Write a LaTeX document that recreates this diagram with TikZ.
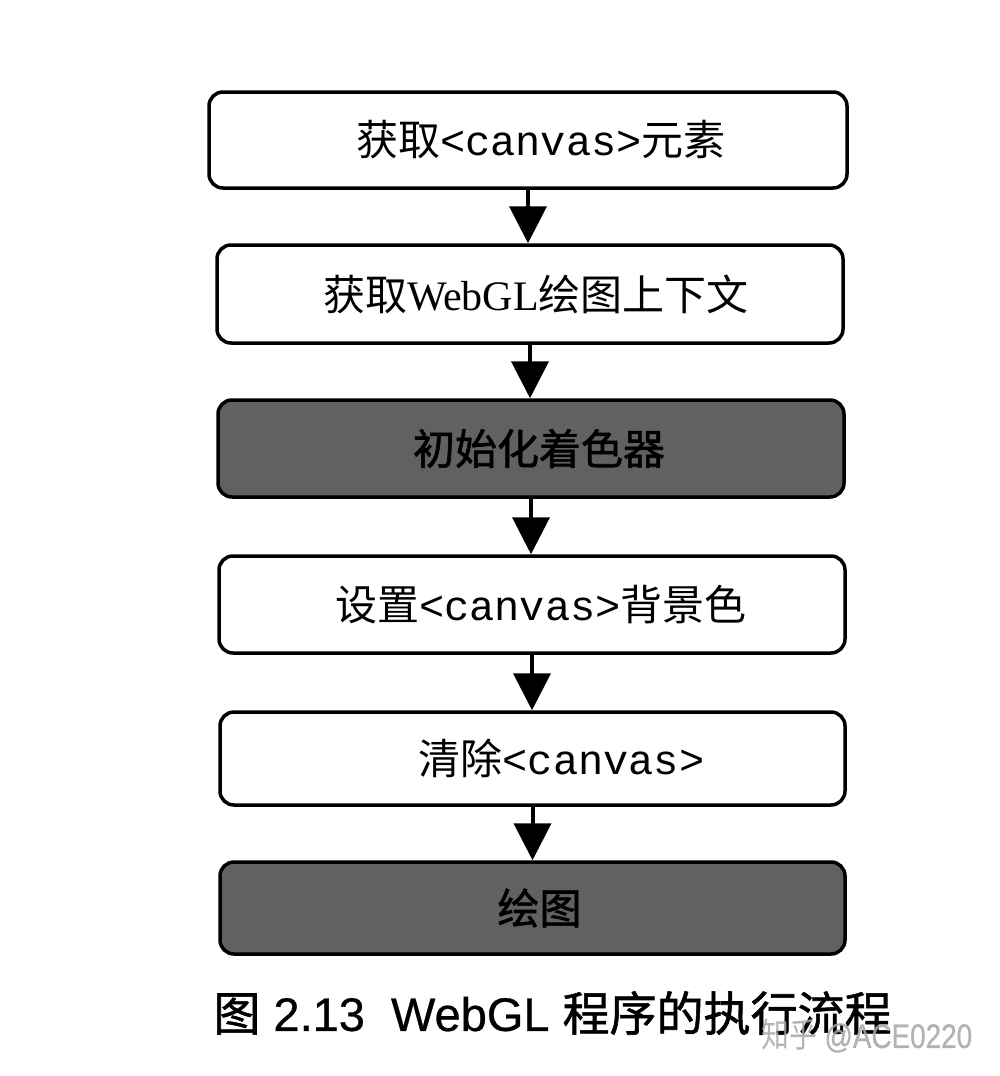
\documentclass[tikz,border=0pt]{standalone}
\usepackage{fontspec}
\setmainfont{Liberation Serif}
\newfontfamily\cjk{Noto Sans CJK SC}
\newfontfamily\cjkb[FakeBold=1.5]{Noto Sans CJK SC}
\newfontfamily\capcjk[FakeBold=1.2]{Noto Sans CJK SC}
\newfontfamily\monof{Liberation Mono}
\newfontfamily\capsans[FakeBold=0.6]{Liberation Sans}
\usetikzlibrary{arrows.meta}
\begin{document}
\begin{tikzpicture}[x=1pt,y=-1pt,
  stepbox/.style={draw=black, line width=3.5pt, rounded corners=14pt, fill=white,
    minimum width=626pt, minimum height=96pt, inner sep=0pt, font=\fontsize{42}{46}\selectfont},
  darkbox/.style={stepbox, fill=black!62},
  flow/.style={line width=4pt, -{Triangle[length=37pt,width=37pt]}},
]
\useasboundingbox (0,0) rectangle (1000,1076);
\fill[white] (0,0) rectangle (1000,1076);

\node[stepbox, minimum width=638pt, minimum height=96pt] (b1) at (528,140)
  {\hspace*{26pt}{\cjk 获取}{\monof <canvas>}{\cjk 元素}};
\node[stepbox, minimum width=626pt, minimum height=98pt] (b2) at (530,294)
  {\hspace*{12pt}{\cjk 获取}WebGL{\cjk 绘图上下文}};
\node[darkbox, minimum width=626pt, minimum height=97pt] (b3) at (531,448.5)
  {\hspace*{16pt}{\cjkb 初始化着色器}};
\node[stepbox, minimum width=626pt, minimum height=97pt] (b4) at (532,604.5)
  {\hspace*{18pt}{\cjk 设置}{\monof <canvas>}{\cjk 背景色}};
\node[stepbox, minimum width=625pt, minimum height=93pt] (b5) at (532.5,758.5)
  {\hspace*{58pt}{\cjk 清除}{\monof <canvas>}};
\node[darkbox, minimum width=625pt, minimum height=92pt] (b6) at (532.5,908)
  {\hspace*{14pt}{\cjkb 绘图}};

\draw[flow] (b1.south) -- (b1.south |- b2.north);
\draw[flow] (b2.south) -- (b2.south |- b3.north);
\draw[flow] (b3.south) -- (b3.south |- b4.north);
\draw[flow] (b4.south) -- (b4.south |- b5.north);
\draw[flow] (b5.south) -- (b5.south |- b6.north);

\node[inner sep=0pt, font=\fontsize{47}{50}\selectfont] (cap) at (552.5,1013)
  {{\capcjk 图}{\capsans\ 2.13\ \ WebGL\ }{\capcjk 程序的执行流程}};
\node[inner sep=0pt, text=black!35, opacity=0.85, xscale=0.82, font=\fontsize{34}{38}\selectfont] (wm) at (867,1036)
  {{\cjk 知乎} {\capsans @ACE0220}};
\end{tikzpicture}
\end{document}
